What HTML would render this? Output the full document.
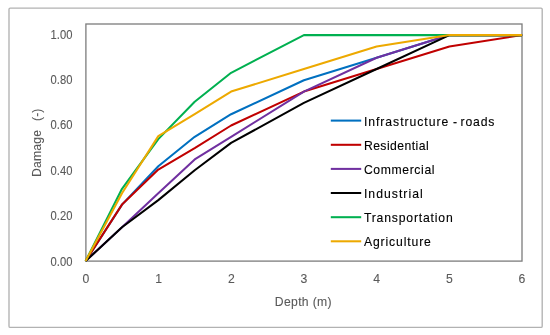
<!DOCTYPE html>
<html><head><meta charset="utf-8"><title>Depth-damage curves</title>
<style>
html,body{margin:0;padding:0;background:#fff;}
body{width:550px;height:335px;overflow:hidden;}
svg{display:block;}
text{font-family:"Liberation Sans",sans-serif;font-size:12.2px;white-space:pre;}
.ax{fill:#595959;stroke:#595959;stroke-width:0.1;}
.lg{fill:#000;stroke:#000;stroke-width:0.12;}
</style></head><body>
<svg width="550" height="335" viewBox="0 0 550 335" xmlns="http://www.w3.org/2000/svg">
<rect x="0" y="0" width="550" height="335" fill="#fff"/>
<rect x="9" y="8.1" width="533.2" height="319.3" fill="#fff" stroke="#b2b2b2" stroke-width="1.35" rx="1.2"/>
<rect x="85.9" y="24" width="436.1" height="237.1" fill="#fff" stroke="#7c7c7c" stroke-width="1.3"/>
<polyline points="85.6,261.1 122.0,204.6 158.3,166.2 194.7,136.8 231.1,114.2 303.9,80.3 376.6,57.7 449.4,35.1 522.1,35.1" fill="none" stroke="#0070c0" stroke-width="2.05" stroke-linejoin="round" stroke-linecap="butt"/>
<polyline points="85.6,261.1 122.0,204.6 158.3,169.6 194.7,148.1 231.1,125.5 303.9,91.6 376.6,69.0 449.4,46.4 522.1,35.1" fill="none" stroke="#c00000" stroke-width="2.05" stroke-linejoin="round" stroke-linecap="butt"/>
<polyline points="85.6,261.1 122.0,227.2 158.3,193.3 194.7,159.4 231.1,136.8 303.9,91.6 376.6,57.7 449.4,35.1 522.1,35.1" fill="none" stroke="#7030a0" stroke-width="2.05" stroke-linejoin="round" stroke-linecap="butt"/>
<polyline points="85.6,261.1 122.0,227.2 158.3,200.1 194.7,170.2 231.1,142.9 303.9,102.9 376.6,69.0 449.4,35.1 522.1,35.1" fill="none" stroke="#000000" stroke-width="2.05" stroke-linejoin="round" stroke-linecap="butt"/>
<polyline points="85.6,261.1 122.0,188.8 158.3,139.1 194.7,101.8 231.1,72.8 303.9,35.1 376.6,35.1 449.4,35.1 522.1,35.1" fill="none" stroke="#00b050" stroke-width="2.05" stroke-linejoin="round" stroke-linecap="butt"/>
<polyline points="85.6,261.1 122.0,193.3 158.3,136.1 194.7,114.2 231.1,91.6 303.9,69.0 376.6,46.4 449.4,35.1 522.1,35.1" fill="none" stroke="#eda900" stroke-width="2.05" stroke-linejoin="round" stroke-linecap="butt"/>
<text class="ax" x="50.6" y="265.7" textLength="21.8" lengthAdjust="spacingAndGlyphs">0.00</text>
<text class="ax" x="50.6" y="220.2" textLength="21.8" lengthAdjust="spacingAndGlyphs">0.20</text>
<text class="ax" x="50.6" y="174.5" textLength="21.8" lengthAdjust="spacingAndGlyphs">0.40</text>
<text class="ax" x="50.6" y="128.9" textLength="21.8" lengthAdjust="spacingAndGlyphs">0.60</text>
<text class="ax" x="50.6" y="83.8" textLength="21.8" lengthAdjust="spacingAndGlyphs">0.80</text>
<text class="ax" x="50.6" y="39.3" textLength="21.8" lengthAdjust="spacingAndGlyphs">1.00</text>
<text class="ax" x="85.9" y="282.6" text-anchor="middle">0</text>
<text class="ax" x="158.6" y="282.6" text-anchor="middle">1</text>
<text class="ax" x="231.3" y="282.6" text-anchor="middle">2</text>
<text class="ax" x="304.0" y="282.6" text-anchor="middle">3</text>
<text class="ax" x="376.6" y="282.6" text-anchor="middle">4</text>
<text class="ax" x="449.3" y="282.6" text-anchor="middle">5</text>
<text class="ax" x="522.0" y="282.6" text-anchor="middle">6</text>
<text class="ax" x="274.8" y="305.5" textLength="56.8" lengthAdjust="spacing">Depth (m)</text>
<text class="ax" transform="translate(41.2,177.1) rotate(-90)"><tspan x="0" textLength="47.2" lengthAdjust="spacing">Damage</tspan>  <tspan x="56.2">(-)</tspan></text>
<line x1="330.8" y1="120.6" x2="361.2" y2="120.6" stroke="#0070c0" stroke-width="2.05"/>
<text class="lg" y="125.6"><tspan x="363.9" textLength="84.3" lengthAdjust="spacing">Infrastructure</tspan> <tspan x="452.9">-</tspan> <tspan x="460.6" textLength="33.8" lengthAdjust="spacing">roads</tspan></text>
<line x1="330.8" y1="144.8" x2="361.2" y2="144.8" stroke="#c00000" stroke-width="2.05"/>
<text class="lg" x="363.9" y="149.8" textLength="64.7" lengthAdjust="spacing">Residential</text>
<line x1="330.8" y1="168.9" x2="361.2" y2="168.9" stroke="#7030a0" stroke-width="2.05"/>
<text class="lg" x="363.9" y="173.9" textLength="70.6" lengthAdjust="spacing">Commercial</text>
<line x1="330.8" y1="193.0" x2="361.2" y2="193.0" stroke="#000000" stroke-width="2.05"/>
<text class="lg" x="363.9" y="198.0" textLength="58.8" lengthAdjust="spacing">Industrial</text>
<line x1="330.8" y1="217.2" x2="361.2" y2="217.2" stroke="#00b050" stroke-width="2.05"/>
<text class="lg" x="363.9" y="222.2" textLength="88.8" lengthAdjust="spacing">Transportation</text>
<line x1="330.8" y1="241.3" x2="361.2" y2="241.3" stroke="#eda900" stroke-width="2.05"/>
<text class="lg" x="363.9" y="246.3" textLength="67.0" lengthAdjust="spacing">Agriculture</text>
</svg></body></html>
